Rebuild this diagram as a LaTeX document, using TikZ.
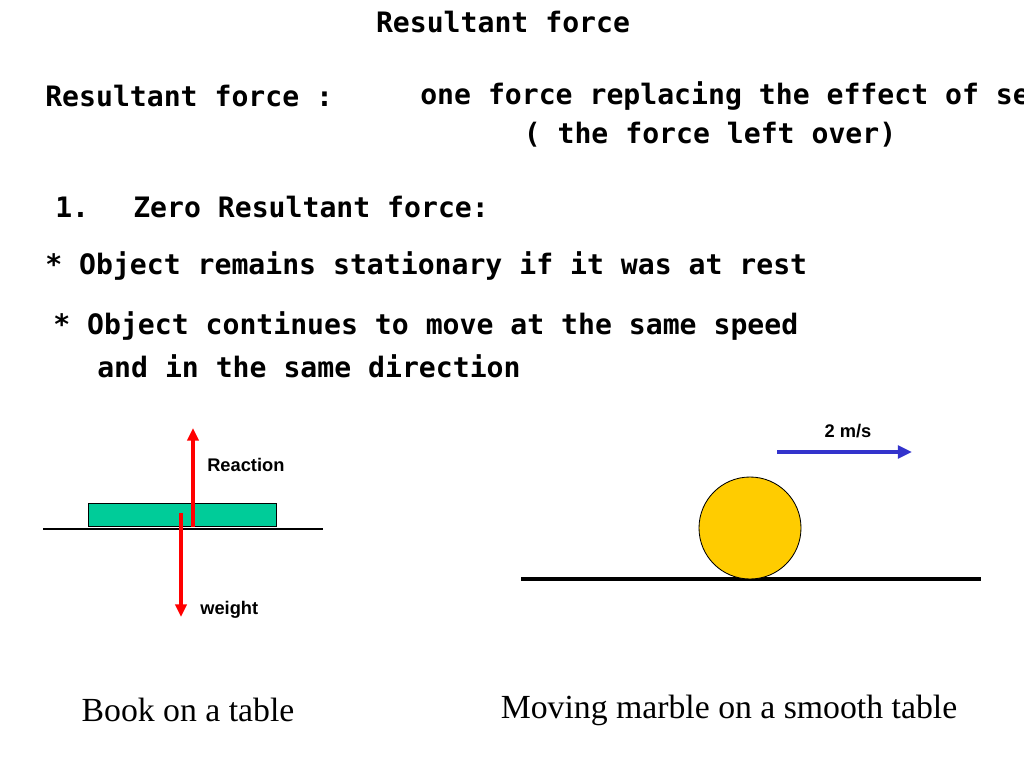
\documentclass[tikz,border=0pt]{standalone}
\usepackage{fontspec}
\setmainfont{Liberation Serif}
\newfontfamily\slidefont{DejaVu Sans Mono}
\newfontfamily\labelfont{Liberation Sans}
\usetikzlibrary{positioning, arrows.meta}
\definecolor{bookgreen}{RGB}{0,204,153}
\definecolor{marbleyellow}{RGB}{255,204,0}
\definecolor{speedblue}{RGB}{51,51,204}

\begin{document}
\begin{tikzpicture}[x=0.025cm,y=-0.025cm]
	\tikzset{
		slide/.style={inner sep=0, anchor=west,
				font=\slidefont\bfseries\fontsize{20}{24}\selectfont},
		small/.style={inner sep=0, font=\labelfont\bfseries\fontsize{13}{15}\selectfont},
		caption/.style={inner sep=0, font=\fontsize{24}{28}\selectfont},
		force/.style={red, line width=2.8pt, -{Triangle[length=9pt,width=8pt]}},
		ground/.style={line width=1.6pt},
	}
	\useasboundingbox (0,0) rectangle (1024,768);
	\clip (0,0) rectangle (1024,768);

	% heading and text
	\node[slide,anchor=center] (title) at (503,22) {Resultant force};
	\node[slide] (term) at (45,96) {Resultant force  :};
	\node[slide] (def) at (420,96) {one force replacing the effect of several forces};
	\node[slide,anchor=center] (left) at (710,135) {( the force left over)};
	\node[slide] (num) at (55,207) {1.};
	\node[slide] (zero) at (133,207) {Zero Resultant force:};
	\node[slide] (rest) at (45,266) {* Object remains stationary if it was at rest};
	\node[slide] (move) at (53,326) {* Object continues to move at the same speed};
	\node[slide] (dir) at (97,366) {and in the same direction};

	% book on a table
	\coordinate (tabL) at (43,529);
	\coordinate (tabR) at (323,529);
	\draw[ground, line width=1.2pt] (tabL) -- (tabR);
	\draw[fill=bookgreen, line width=0.6pt] (88,503) rectangle (276,526);
	\coordinate (rfoot) at (193,527);
	\coordinate (rtip) at (193,428);
	\draw[force] (rfoot) -- (rtip);
	\coordinate (wfoot) at (181,513);
	\coordinate (wtip) at (181,617);
	\draw[force] (wfoot) -- (wtip);
	\node[small,anchor=west] (reaction) at (207,465) {Reaction};
	\node[small,anchor=west] (weight) at (200,610) {weight};

	% moving marble
	\coordinate (floorL) at (521,579);
	\coordinate (floorR) at (981,579);
	\draw[ground, line width=2.2pt] (floorL) -- (floorR);
	\node[circle, draw, fill=marbleyellow, minimum size=102*0.025cm, inner sep=0, line width=0.6pt] (marble) at (750,528) {};
	\coordinate (vfoot) at (777,452);
	\coordinate (vtip) at (912,452);
	\draw[speedblue, line width=2.4pt, -{Triangle[length=10pt,width=9pt]}] (vfoot) -- (vtip);
	\node[small] (speed) at (848,431) {2 m/s};

	% captions
	\node[caption] (book) at (188,710) {Book on a table};
	\node[caption] (marbletxt) at (729,710) {Moving marble on a smooth table};
\end{tikzpicture}
\end{document}
